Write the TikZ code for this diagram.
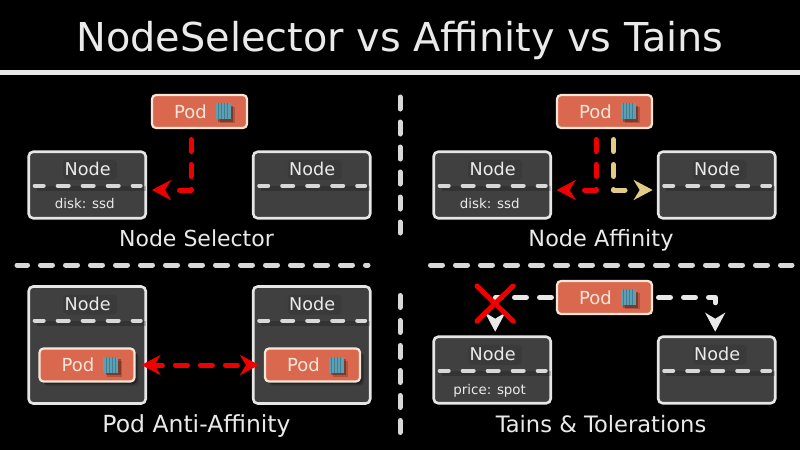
\documentclass[tikz,border=0pt]{standalone}
\usepackage{fontspec}
\setmainfont{DejaVu Sans}
\usetikzlibrary{arrows.meta,shadows,calc}
\definecolor{bglc}{HTML}{000000}
\definecolor{boxf}{HTML}{404040}
\definecolor{boxl}{HTML}{E6E6E6}
\definecolor{dashc}{HTML}{D8D8D8}
\definecolor{podf}{HTML}{D9684F}
\definecolor{podl}{HTML}{F6E6DA}
\definecolor{iconf}{HTML}{5E9FB2}
\definecolor{iconl}{HTML}{3F7F95}
\definecolor{txtc}{HTML}{EAEAEA}
\definecolor{redc}{HTML}{EE0000}
\definecolor{yelc}{HTML}{E2CB84}
\definecolor{whtc}{HTML}{E8E8E8}
\tikzset{
  softshadow/.style={
    drop shadow={shadow xshift=4pt,shadow yshift=-4pt,fill=black,opacity=.18},
    drop shadow={shadow xshift=2.5pt,shadow yshift=-2.5pt,fill=black,opacity=.3}},
  nodebox/.style={draw=boxl,fill=boxf,line width=2.6pt,rounded corners=4.5pt,inner sep=0pt,outer sep=0pt},
  podbox/.style={draw=podl,fill=podf,line width=2.2pt,rounded corners=4pt,inner sep=0pt,outer sep=0pt,minimum width=95pt,minimum height=33pt,softshadow},
  icon/.style={fill=iconf,draw=none,inner sep=0pt,outer sep=0pt,minimum width=15pt,minimum height=16pt,softshadow},
  nodetxt/.style={text=txtc,font=\fontsize{17.6}{20}\selectfont,inner sep=0pt,anchor=base},
  podtxt/.style={text=podl,font=\fontsize{18}{20}\selectfont,inner sep=0pt,anchor=base},
  smalltxt/.style={text=txtc,font=\fontsize{13.4}{15}\selectfont,inner sep=0pt,anchor=base},
  headtxt/.style={text=txtc,inner sep=0pt,anchor=base},
  titletxt/.style={text=txtc,font=\fontsize{39.8}{44}\selectfont,inner sep=0pt,anchor=base},
  innerdash/.style={draw=dashc,line width=4pt,line cap=round,dash pattern=on 11pt off 14pt,dash phase=2pt},
  divider/.style={draw=dashc,line width=5pt,line cap=round,dash pattern=on 12pt off 13pt},
  conn/.style={line width=5pt,line cap=round,line join=round,dash pattern=on 12pt off 13pt on 12pt off 13pt on 12pt off 80pt},
  tipend/.style={-{Stealth[length=19pt,width=20pt,inset=6pt]}},
  redconn/.style={conn,draw=redc,tipend},
  yelconn/.style={conn,draw=yelc,tipend},
  whtconn/.style={conn,draw=whtc,tipend},
}
\newcommand{\nodebox}[5]{%
  \node[nodebox,minimum width=#4pt,minimum height=#5pt] (#1) at (#2,#3) {};
  \fill[black,opacity=.08,rounded corners=4pt] ($(#1.north)+(-24,8)$) rectangle ($(#1.north)+(30,28)$);
  \node[nodetxt] (#1T) at ($(#1.north)+(0.5,23.5)$) {Node};
  \draw[black,opacity=.2,line width=5pt] ($(#1.north west)+(8,37)$) -- ($(#1.north east)+(0,37)$);
  \draw[innerdash] ($(#1.north west)+(6,34)$) -- ($(#1.north east)+(-5,34)$);
}
\newcommand{\podnode}[3]{%
  \node[podbox] (#1) at (#2,#3) {};
  \node[podtxt] (#1T) at ($(#1.center)+(-9,6.8)$) {Pod};
  \node[icon] (#1I) at ($(#1.center)+(23.5,-0.5)$) {};
  \foreach \k in {-4.5,-1.5,1.5,4.5}
    \draw[iconl,line width=.9pt] ($(#1I.south)+(\k,0)$) -- ($(#1I.north)+(\k,0)$);
}
\begin{document}
\begin{tikzpicture}[x=1pt,y=-1pt]
\useasboundingbox (0,0) rectangle (800,450);
\fill[bglc] (0,0) rectangle (800,450);
\node[titletxt] (title) at (400,51) {NodeSelector vs Affinity vs Tains};
\coordinate (ruleL) at (0,72.5);
\coordinate (ruleR) at (800,72.5);
\draw[whtc,line width=5pt] (ruleL) -- (ruleR);
% dividers
\coordinate (vTa) at (400,97); \coordinate (vTb) at (400,233);
\coordinate (vBa) at (400,295.5); \coordinate (vBb) at (400,433);
\coordinate (hLa) at (17,265); \coordinate (hLb) at (368,265);
\coordinate (hRa) at (430.5,265); \coordinate (hRb) at (792,265);
\draw[divider] (vTa) -- (vTb);
\draw[divider] (vBa) -- (vBb);
\draw[divider,dash phase=1.5pt] (hLa) -- (hLb);
\draw[divider] (hRa) -- (hRb);
% Node Selector
\nodebox{na}{87.2}{185}{117}{66.5}
\nodebox{nb}{311.7}{185}{117}{66.5}
\node[smalltxt] (la) at (84.7,208.3) {disk: ssd};
\podnode{pa}{199.5}{111.5}
\draw[redconn] ($(pa.south)+(-8.5,11.5)$) |- ($(na.east)+(6.3,5)$);
\node[headtxt,font=\fontsize{22}{24}\selectfont] (ha) at (196.5,246) {Node Selector};
% Node Affinity
\nodebox{nc}{492.2}{185}{117}{66.5}
\nodebox{nd}{716.7}{185}{117}{66.5}
\node[smalltxt] (lc) at (489.7,208.3) {disk: ssd};
\podnode{pb}{604.5}{111.5}
\draw[redconn] ($(pb.south)+(-8.5,11.5)$) |- ($(nc.east)+(6,5)$);
\draw[yelconn] ($(pb.south)+(9,11.5)$) |- ($(nd.west)+(-5.5,5)$);
\node[headtxt,font=\fontsize{22.4}{24}\selectfont] (hb) at (601,246) {Node Affinity};
% Pod Anti-Affinity
\nodebox{ne}{87.2}{345}{117}{117}
\nodebox{nf}{311.7}{345}{117}{117}
\podnode{pc}{87}{365}
\podnode{pd}{312.5}{365}
\draw[line width=5pt,line cap=round,dash pattern=on 12pt off 13pt,draw=redc,dash phase=3pt,{Stealth[length=19pt,width=20pt,inset=6pt]}-{Stealth[length=19pt,width=20pt,inset=6pt]}] ($(pc.east)+(7,0)$) -- ($(pd.west)+(-6,0)$);
\node[headtxt,font=\fontsize{23.5}{26}\selectfont] (hc) at (196.5,432) {Pod Anti-Affinity};
% Tains
\nodebox{ng}{492.2}{370}{117}{66.5}
\nodebox{nh}{716.7}{370}{117}{66.5}
\node[smalltxt] (lg) at (489.7,394.3) {price: spot};
\podnode{pe}{604.5}{297.5}
\draw[whtconn] ($(pe.west)+(-5.5,0)$) -| ($(ng.north)+(3,-5)$);
\draw[whtconn] ($(pe.east)+(6.5,0)$) -| ($(nh.north)+(-1.5,-5)$);
\coordinate (xa) at (477,286); \coordinate (xb) at (513,321);
\coordinate (xc) at (513,286); \coordinate (xd) at (477,321);
\draw[redc,line width=5pt,line cap=round] (xa) -- (xb);
\draw[redc,line width=5pt,line cap=round] (xc) -- (xd);
\node[headtxt,font=\fontsize{22.6}{25}\selectfont] (hd) at (601,432) {Tains \& Tolerations};
\end{tikzpicture}
\end{document}
